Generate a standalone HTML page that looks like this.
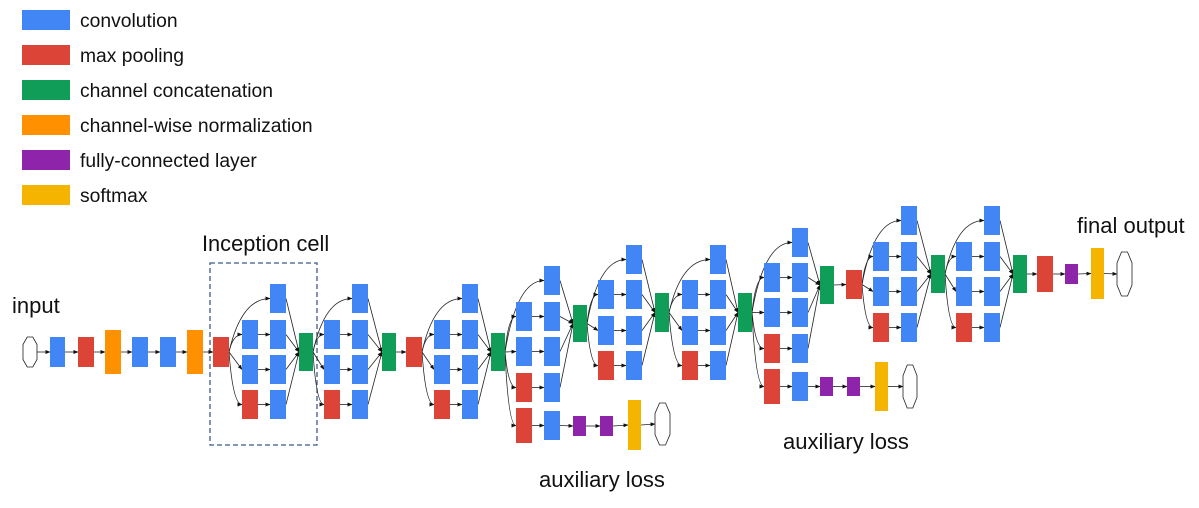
<!DOCTYPE html>
<html><head><meta charset="utf-8"><style>
html,body{margin:0;padding:0;background:#fff;}
svg{display:block;font-family:"Liberation Sans",Arial,sans-serif;}
</style></head><body>
<svg id="s" width="1199" height="508" viewBox="0 0 1199 508" xmlns="http://www.w3.org/2000/svg">
<defs><marker id="a" markerWidth="5" markerHeight="5" refX="4.5" refY="2.5" orient="auto" markerUnits="userSpaceOnUse"><path d="M0,0.5 L5,2.5 L0,4.5Z" fill="#111"/></marker></defs>
<g id="lg">
<rect x="22" y="10" width="48" height="20" fill="#4285f4"/><text x="80" y="27" font-size="19.3" fill="#111">convolution</text>
<rect x="22" y="45" width="48" height="20" fill="#db4437"/><text x="80" y="62" font-size="19.3" fill="#111">max pooling</text>
<rect x="22" y="80" width="48" height="20" fill="#0f9d58"/><text x="80" y="97" font-size="19.3" fill="#111">channel concatenation</text>
<rect x="22" y="115" width="48" height="20" fill="#ff9000"/><text x="80" y="132" font-size="19.3" fill="#111">channel-wise normalization</text>
<rect x="22" y="150" width="48" height="20" fill="#8e24aa"/><text x="80" y="167" font-size="19.3" fill="#111">fully-connected layer</text>
<rect x="22" y="185" width="48" height="20" fill="#f4b400"/><text x="80" y="202" font-size="19.3" fill="#111">softmax</text>
</g>
<text x="12" y="313" font-size="22" fill="#111">input</text>
<text x="202" y="251" font-size="21.8" fill="#111">Inception cell</text>
<text x="1077" y="233" font-size="22" fill="#111">final output</text>
<text x="539" y="487" font-size="22" fill="#111">auxiliary loss</text>
<text x="783" y="449" font-size="22" fill="#111">auxiliary loss</text>
<rect x="210" y="263" width="107" height="182" fill="none" stroke="#3b5a8c" stroke-width="1.3" stroke-dasharray="5,3"/>
<g id="ln"></g><g id="bx"></g>
</svg>
<script>
var NS="http://www.w3.org/2000/svg",bx=document.getElementById('bx'),ln=document.getElementById('ln');
var C={b:"#4285f4",r:"#db4437",g:"#0f9d58",o:"#ff9000",p:"#8e24aa",y:"#f4b400"};
function R(x1,y1,x2,y2,c){var e=document.createElementNS(NS,'rect');e.setAttribute('x',x1);e.setAttribute('y',y1);e.setAttribute('width',x2-x1);e.setAttribute('height',y2-y1);e.setAttribute('fill',C[c]);bx.appendChild(e);return {l:x1,r:x2,m:(y1+y2)/2};}
function H(x1,y1,x2,y2){var w=x2-x1,h=y2-y1,d=w*0.3;var p=document.createElementNS(NS,'polygon');
p.setAttribute('points',[[x1+d,y1],[x2-d,y1],[x2,y1+h*0.25],[x2,y2-h*0.25],[x2-d,y2],[x1+d,y2],[x1,y2-h*0.25],[x1,y1+h*0.25]].join(' '));
p.setAttribute('fill','#fff');p.setAttribute('stroke','#222');p.setAttribute('stroke-width','0.8');bx.appendChild(p);return {l:x1,r:x2,m:(y1+y2)/2};}
function L(a,b,curve){var p=document.createElementNS(NS,'path');var x1=a.r,y1=a.m,x2=b.l,y2=b.m,d;
if(curve){d="M"+x1+","+y1+" Q"+(x1+(x2-x1)*0.3)+","+y2+" "+x2+","+y2;}else d="M"+x1+","+y1+" L"+x2+","+y2;
p.setAttribute('d',d);p.setAttribute('fill','none');p.setAttribute('stroke','#222');p.setAttribute('stroke-width','0.8');p.setAttribute('marker-end','url(#a)');ln.appendChild(p);}
function Inc(src,c1,c2,cc,rows,cy1,cy2){var h=29,w=16;
var t=R(c2,rows[0],c2+w,rows[0]+h,'b');
var cat=R(cc,cy1,cc+14,cy2,'g');
L(src,t,true);L(t,cat);
for(var i=1;i<4;i++){var a=R(c1,rows[i],c1+w,rows[i]+h,i==3?'r':'b');var b=R(c2,rows[i],c2+w,rows[i]+h,'b');L(src,a,i!=2);L(a,b);L(b,cat);}
return cat;}
var n=H(23,337,37,367);
var c=R(50,337,65,367,'b');L(n,c);
var m=R(78,337,94,367,'r');L(c,m);
var o=R(105,330,121,374,'o');L(m,o);
var c2=R(132,337,148,367,'b');L(o,c2);
var c3=R(160,337,176,367,'b');L(c2,c3);
var o2=R(187,330,203,374,'o');L(c3,o2);
var mp=R(213,337,229,367,'r');L(o2,mp);
var k=Inc(mp,242,270,299,[284,320,355,390],333,371);
k=Inc(k,324,352,382,[284,320,355,390],333,371);
var mp2=R(406,337,422,367,'r');L(k,mp2);
var k4a=Inc(mp2,434,462,491,[284,320,355,390],333,371);
var k4b=Inc(k4a,516,544,573,[266,302,337,373],305,342);
var ap=R(516,408,532,443,'r');L(k4a,ap,true);
var q=R(544,411,560,440,'b');L(ap,q);
var f=R(573,416,586,436,'p');L(q,f);
var f2=R(600,416,613,436,'p');L(f,f2);
var s=R(628,400,641,450,'y');L(f2,s);
var hx=H(655,403,670,445);L(s,hx);
var k4c=Inc(k4b,598,626,655,[245,280,316,351],293,332);
var k4d=Inc(k4c,682,710,738,[245,280,316,351],293,332);
var k4e=Inc(k4d,764,792,820,[228,263,298,334],266,304);
ap=R(764,369,780,404,'r');L(k4d,ap,true);
q=R(792,372,808,401,'b');L(ap,q);
f=R(820,377,833,396,'p');L(q,f);
f2=R(847,377,860,396,'p');L(f,f2);
s=R(875,362,888,411,'y');L(f2,s);
hx=H(903,365,917,408);L(s,hx);
var mp3=R(846,270,862,299,'r');L(k4e,mp3);
var k5a=Inc(mp3,873,901,931,[206,242,277,313],255,293);
var k5b=Inc(k5a,956,984,1013,[206,242,277,313],255,293);
ap=R(1037,256,1053,292,'r');L(k5b,ap);
f=R(1065,264,1078,284,'p');L(ap,f);
s=R(1091,248,1104,299,'y');L(f,s);
hx=H(1117,252,1132,296);L(s,hx);
</script>
</body></html>
